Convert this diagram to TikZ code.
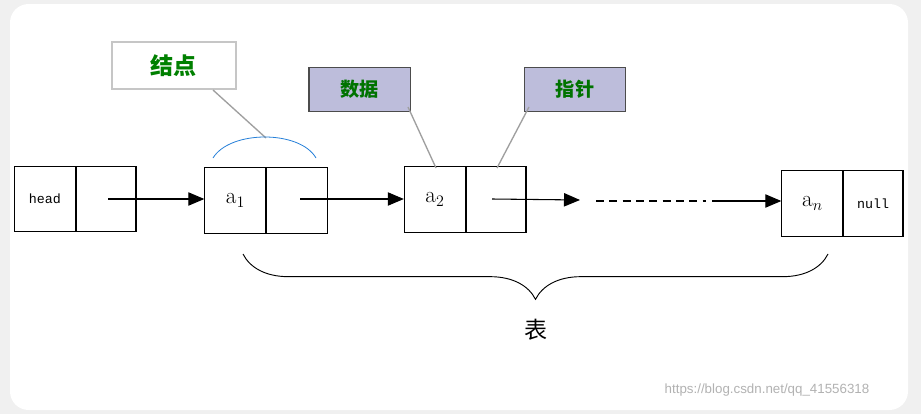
\documentclass[tikz,border=0pt]{standalone}
\usepackage{fontspec}
\newfontfamily\cjk{Noto Sans CJK SC}
\setmonofont{Liberation Mono}
\setsansfont{Liberation Sans}
\usetikzlibrary{decorations.pathreplacing,arrows.meta}
\begin{document}
\begin{tikzpicture}[x=0.75pt,y=-0.75pt,
  cell/.style={draw,line width=0.8pt,minimum height=49pt,inner sep=0},
  lbl/.style={draw=black!70,fill=blue!30!gray!40,line width=1pt,minimum width=76pt,minimum height=33pt,font=\cjk\bfseries\Large,text=green!45!black},
  arr/.style={-{Triangle[length=12pt,width=10pt]},line width=0.8pt},
  call/.style={draw=gray!75,line width=1pt}]
\useasboundingbox (0,0) rectangle (921,414);
\fill[black!6] (0,0) rectangle (921,414);
\fill[white,rounded corners=14pt] (10,4) rectangle (908,410);
% nodes
\node[cell,minimum width=46pt] (h1) at (45,199) {\ttfamily head};
\node[cell,minimum width=45pt] (h2) at (106,199) {};
\node[cell,minimum width=46pt] (a1) at (235.5,200.5) {\LARGE$\mathrm{a}_1$};
\node[cell,minimum width=46pt] (a1p) at (296.5,200.5) {};
\node[cell,minimum width=46pt] (a2) at (435,199.5) {\LARGE$\mathrm{a}_2$};
\node[cell,minimum width=45pt] (a2p) at (496,199.5) {};
\node[cell,minimum width=46pt] (an) at (812.5,203.5) {\LARGE$\mathrm{a}_n$};
\node[cell,minimum width=45pt] (anp) at (873,203.5) {\ttfamily null};
\coordinate (s1) at (108,199);
\coordinate (s2) at (300,199);
\coordinate (s3) at (492,199);
\coordinate (e3) at (580,200);
\coordinate (d1) at (596,201);
\coordinate (d2) at (706,201);
\coordinate (s4) at (712,201);
\draw[arr] (s1) -- (a1.west|-s1);
\draw[arr] (s2) -- (a2.west|-s2);
\draw[arr] (s3) -- (e3);
\draw[line width=0.8pt,dash pattern=on 6pt off 4pt] (d1) -- (d2);
\draw[arr] (s4) -- (an.west|-s4);
% brace
\coordinate (b1) at (828,254);
\coordinate (b2) at (243,254);
\draw[line width=0.7pt,decorate,decoration={brace,amplitude=34pt}] (b1) -- (b2);
\node[font=\cjk\LARGE] (biao) at (536,330) {表};
% labels
\node[draw=gray!45,line width=1.5pt,fill=white,minimum width=93pt,minimum height=35pt,font=\cjk\bfseries\LARGE,text=green!50!black] (jd) at (173.5,65.5) {结点};
\node[lbl] (sj) at (359.5,89.5) {数据};
\node[lbl] (zz) at (575,89.5) {指针};
\coordinate (arcm) at (266,138);
\draw[call] (213,90) -- (arcm);
\draw[blue!50!cyan!70!gray,line width=0.6pt] (213,158) .. controls (230,130) and (300,130) .. (316,158);
\draw[call] (408,107) -- (436,168);
\draw[call] (529,107) -- (497,168);
\node[font=\sffamily,text=black!30] (wm) at (767,390) {https://blog.csdn.net/qq\_41556318};
\end{tikzpicture}
\end{document}
